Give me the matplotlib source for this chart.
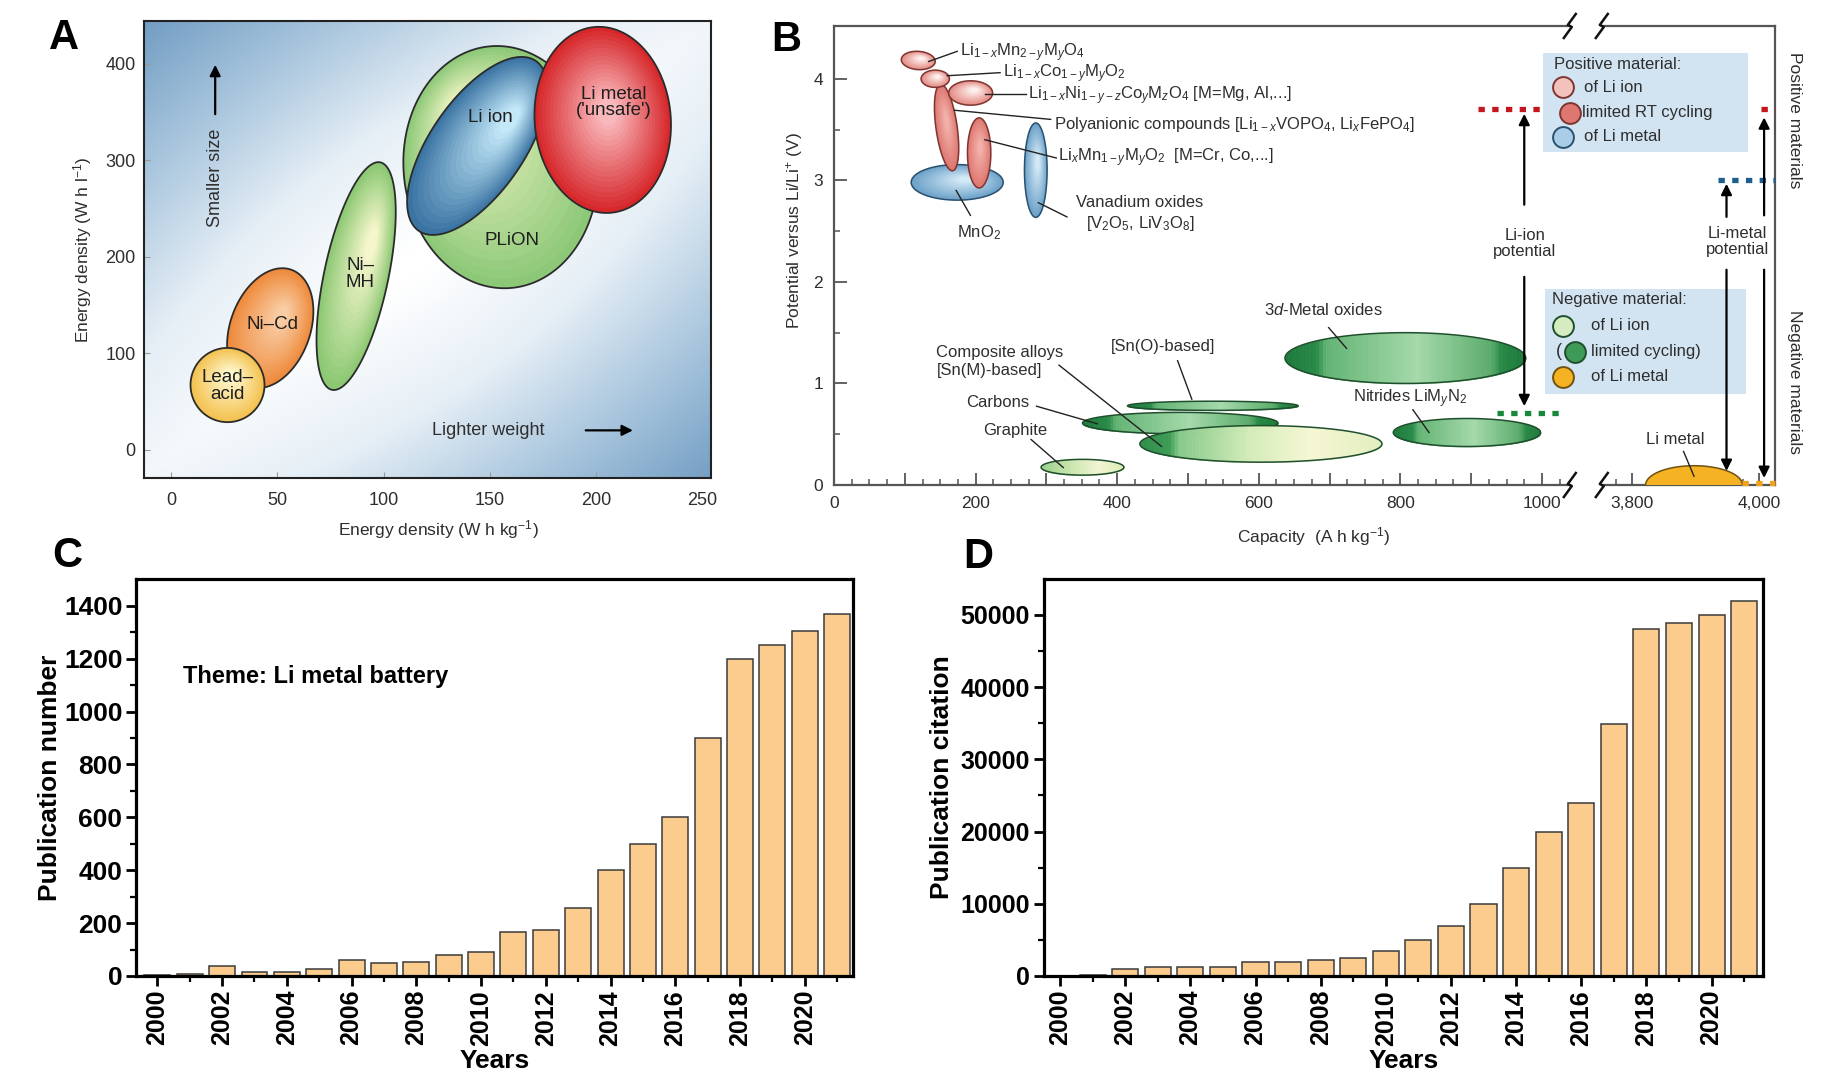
import numpy as np
import matplotlib
matplotlib.use("Agg")
import matplotlib.pyplot as plt
from matplotlib.colors import to_rgb, LinearSegmentedColormap
from matplotlib.patches import Polygon, Rectangle

plt.rcParams["font.family"] = ["Liberation Sans", "DejaVu Sans"]
plt.rcParams["mathtext.fontset"] = "custom"
plt.rcParams["mathtext.rm"] = "Liberation Sans"
plt.rcParams["mathtext.it"] = "Liberation Sans:italic"
plt.rcParams["mathtext.bf"] = "Liberation Sans:bold"

# ---------------- panel A: energy density regions ----------------
A_LABELS = ["Lead–\nacid", "Ni–Cd", "Ni–\nMH", "PLiON", "Li ion", "Li metal\n('unsafe')"]
A_CX = [26.5, 46.6, 87.0, 155.0, 144.0, 203.0]      # W h kg-1
A_CY = [67.0, 126.0, 180.0, 293.0, 315.0, 342.0]    # W h l-1
A_RX = [17.4, 18.8, 15.1, 45.7, 22.1, 32.0]
A_RY = [38.5, 64.4, 120.6, 125.8, 107.0, 96.7]
A_TILT = [0, -20, -12, 5, -34.6, 5]
A_TX = [26.5, 47.6, 89.0, 160.5, 150.0, 208.0]
A_TY = [66.0, 130.0, 182.0, 217.0, 344.0, 360.0]

# ---------------- panel B: electrode materials ----------------
B_POS_NAMES = ["MnO2", "Vanadium oxides", "Polyanionic", "LixMnO2", "LiMn2O4", "LiCoO2", "LiNiCoO2"]
B_POS_CX = [174, 285, 159, 205, 119, 143, 193]        # A h kg-1
B_POS_CY = [2.98, 3.10, 3.52, 3.27, 4.18, 4.00, 3.86]  # V vs Li/Li+
B_POS_W = [130, 32, 30, 33, 48, 40, 62]
B_POS_H = [0.35, 0.93, 0.86, 0.69, 0.18, 0.17, 0.24]
B_POS_TILT = [0, 0, 8, 0, -4, 0, 0]
B_POS_KIND = ["metal", "metal", "rt", "rt", "ion", "ion", "ion"]

B_NEG_NAMES = ["3d-Metal oxides", "Carbons", "Composite alloys", "Sn(O)-based", "Nitrides", "Graphite"]
B_NEG_CX = [807, 489, 603, 535, 894, 351]
B_NEG_CY = [1.25, 0.61, 0.405, 0.78, 0.517, 0.175]
B_NEG_W = [340, 276, 342, 241, 208, 117]
B_NEG_H = [0.50, 0.21, 0.36, 0.09, 0.276, 0.155]
B_NEG_KIND = ["cyc", "cyc", "mix", "cyc", "cyc", "ion"]

LI_METAL_CX, LI_METAL_W, LI_METAL_H = 3898, 152, 0.38

B_DOT_X0 = [909, 4003, 3935, 937, 3974]
B_DOT_X1 = [997, 4025, 4025, 1028, 4025]
B_DOT_Y = [3.70, 3.70, 3.00, 0.71, 0.02]
B_DOT_COL = ["#c4161c", "#c4161c", "#1d5e8c", "#178a3a", "#f0a21e"]

# arrows: x, y_start, y_end
B_ARROWS = [(975, 2.76, 3.655), (975, 2.05, 0.776),
            (3949, 2.64, 2.966), (3949, 2.12, 0.138),
            (4008, 2.655, 3.62), (4008, 2.12, 0.069)]

# ---------------- panels C, D: bibliometrics ----------------
YEARS = np.arange(2000, 2022)
PUB_NUMBER = [3, 6, 38, 14, 15, 25, 59, 49, 54, 78, 89, 168, 173, 258,
              400, 500, 600, 900, 1200, 1250, 1305, 1370]
PUB_CITATION = [0, 140, 930, 1250, 1200, 1200, 1990, 1990, 2270, 2450, 3470, 4950,
                6940, 9950, 14900, 19960, 23960, 34900, 48000, 48900, 50000, 51900]

TXT = "#2e2e2e"


def px_scale(ax, xspan, yspan):
    bb = ax.get_position()
    w = bb.width * fig.get_figwidth() * fig.dpi
    h = bb.height * fig.get_figheight() * fig.dpi
    return w / xspan, h / yspan


def ellipse_pts(cx, cy, rx, ry, tilt, sx, sy, s=1.0, hx=0.0, hy=0.0, n=160):
    t = np.linspace(0, 2 * np.pi, n)
    u = (rx * s * np.cos(t) + (1 - s) * hx * rx) * sx
    v = (ry * s * np.sin(t) + (1 - s) * hy * ry) * sy
    a = np.radians(tilt)
    x = cx + (u * np.cos(a) - v * np.sin(a)) / sx
    y = cy + (u * np.sin(a) + v * np.cos(a)) / sy
    return np.column_stack([x, y])


def shaded(ax, cx, cy, rx, ry, tilt, scale, base, light, edge, hx, hy, z, lw=1.3, layers=18):
    sx, sy = scale
    c0, c1 = np.array(to_rgb(base)), np.array(to_rgb(light))
    for k in range(layers):
        f = k / (layers - 1)
        s = 1 - 0.85 * f
        ax.add_patch(Polygon(ellipse_pts(cx, cy, rx, ry, tilt, sx, sy, s, hx, hy),
                             closed=True, fc=c0 + (c1 - c0) * f, ec="none", zorder=z))
    ax.add_patch(Polygon(ellipse_pts(cx, cy, rx, ry, tilt, sx, sy), closed=True,
                         fill=False, ec=edge, lw=lw, zorder=z + 0.01))


def striped(ax, cx, cy, w, h, stops, edge, z, n=70):
    cmap = LinearSegmentedColormap.from_list("g", stops)
    xs = np.linspace(cx - w / 2, cx + w / 2, n + 1)
    for x0, x1 in zip(xs[:-1], xs[1:]):
        seg = np.linspace(x0, x1, 5)
        half = (h / 2) * np.sqrt(np.clip(1 - ((seg - cx) / (w / 2)) ** 2, 0, 1))
        col = cmap((0.5 * (x0 + x1) - (cx - w / 2)) / w)
        ax.fill_between(seg, cy - half, cy + half, color=col, ec=col, lw=0.5, zorder=z)
    ax.add_patch(Polygon(ellipse_pts(cx, cy, w / 2, h / 2, 0, 1, 1), closed=True,
                         fill=False, ec=edge, lw=1.1, zorder=z + 0.01))


fig = plt.figure(figsize=(18.27, 10.86), dpi=100)

# ======================= A =======================
axA = fig.add_axes([0.0788, 0.5596, 0.3101, 0.4211])
xlA, ylA = (-12.8, 253.7), (-29.7, 444.6)
g = np.linspace(0, 1, 240)
P, Q = np.meshgrid(g, g)
D = np.abs(P - Q) * 1.2 + 0.45 * np.hypot(P - 0.5, Q - 0.45)
bg = LinearSegmentedColormap.from_list("bg", ["#ffffff", "#e6eff6", "#a8c5dd", "#709cc2"])
axA.imshow(D, extent=(*xlA, *ylA), origin="lower", cmap=bg, vmin=0.05, vmax=1.55,
           aspect="auto", zorder=0, interpolation="bilinear")
axA.set_xlim(*xlA)
axA.set_ylim(*ylA)
scA = px_scale(axA, xlA[1] - xlA[0], ylA[1] - ylA[0])

A_BASE = ["#f3c24f", "#ee8a3c", "#8cc873", "#8dc878", "#3b74a3", "#d6272b"]
A_LIGHT = ["#fff6cc", "#f9cda4", "#f5f6cc", "#eef4c2", "#c3e8f8", "#f9b8bb"]
A_HL = [(0.1, 0.3), (0.2, 0.3), (0.3, 0.35), (-0.4, 0.55), (0.3, 0.45), (0.1, 0.1)]
for z, i in enumerate([3, 4, 5, 2, 1, 0]):
    shaded(axA, A_CX[i], A_CY[i], A_RX[i], A_RY[i], A_TILT[i], scA, A_BASE[i], A_LIGHT[i],
           "#2b2b2b", A_HL[i][0], A_HL[i][1], z=2 + z)
    axA.text(A_TX[i], A_TY[i], A_LABELS[i], ha="center", va="center", fontsize=13.5,
             color="#1e1e1e", zorder=20, linespacing=0.95)

axA.annotate("", xy=(20.7, 402), xytext=(20.7, 345),
             arrowprops=dict(arrowstyle="-|>", color="black", lw=1.6, mutation_scale=16), zorder=20)
axA.text(20.7, 282, "Smaller size", rotation=90, ha="center", va="center", fontsize=13, color=TXT)
axA.text(149, 20, "Lighter weight", ha="center", va="center", fontsize=13, color=TXT)
axA.annotate("", xy=(218.5, 20), xytext=(193.7, 20),
             arrowprops=dict(arrowstyle="-|>", color="black", lw=1.6, mutation_scale=16), zorder=20)

axA.set_xticks(range(0, 251, 50))
axA.set_yticks(range(0, 401, 100))
axA.tick_params(direction="in", length=4, color="#9a9a9a", labelsize=13, labelcolor=TXT)
axA.tick_params(axis="x", pad=10)
axA.tick_params(axis="y", pad=6)
for sp in axA.spines.values():
    sp.set_color("#222222")
    sp.set_linewidth(1.5)
axA.set_xlabel("Energy density (W h kg$^{-1}$)", fontsize=12.5, color=TXT)
axA.set_ylabel("Energy density (W h l$^{-1}$)", fontsize=12.5, color=TXT)
axA.xaxis.set_label_coords(0.52, -0.087)
axA.yaxis.set_label_coords(-0.089, 0.5)

# ======================= B =======================
SLOPE = 0.9
KNOTS_X = [-1e5, 1040, 3740, 1e5]
KNOTS_U = [-1e5, 1040, 1072.6, 1072.6 + (1e5 - 3740) * SLOPE]


def cap_fwd(x):
    return np.interp(np.asarray(x, dtype=float), KNOTS_X, KNOTS_U)


def cap_inv(u):
    return np.interp(np.asarray(u, dtype=float), KNOTS_U, KNOTS_X)


axB = fig.add_axes([0.4565, 0.5534, 0.515, 0.4227])
axB.set_xscale("function", functions=(cap_fwd, cap_inv))
xlB, ylB = (0, 4025), (0, 4.52)
axB.set_xlim(*xlB)
axB.set_ylim(*ylB)
scB = px_scale(axB, float(cap_fwd(xlB[1]) - cap_fwd(xlB[0])), ylB[1] - ylB[0])

POS_STYLE = {"ion": ("#e58b84", "#fdf1ef", "#7e3430", (0.2, 0.3)),
             "rt": ("#de7770", "#f2b2ab", "#7e3430", (0.1, 0.2)),
             "metal": ("#6da2c9", "#d3e9f6", "#29506e", (0.2, 0.2))}
for i in range(len(B_POS_NAMES)):
    base, light, edge, hl = POS_STYLE[B_POS_KIND[i]]
    shaded(axB, B_POS_CX[i], B_POS_CY[i], B_POS_W[i] / 2, B_POS_H[i] / 2, B_POS_TILT[i], scB,
           base, light, edge, hl[0], hl[1], z=3 + i * 0.1, lw=1.1)

NEG_STOPS = {
    "cyc": [(0, "#1c7a3b"), (0.13, "#2a8a48"), (0.17, "#63b474"), (0.55, "#a5d9ab"),
            (0.86, "#5aab6a"), (0.9, "#288846"), (1, "#1c7a3b")],
    "mix": [(0, "#2f8f4a"), (0.12, "#3d9c55"), (0.16, "#86c98a"), (0.45, "#d3ecb8"),
            (0.7, "#f6f6d4"), (1, "#e2eebf")],
    "ion": [(0, "#98d08a"), (0.3, "#c3e3a8"), (0.7, "#f2f5d3"), (1, "#dcecb5")],
}
for i, kind in enumerate(B_NEG_KIND):
    striped(axB, B_NEG_CX[i], B_NEG_CY[i], B_NEG_W[i], B_NEG_H[i], NEG_STOPS[kind],
            "#1f4f2c", z=3 + i * 0.1)

axB.add_patch(Polygon(ellipse_pts(LI_METAL_CX, 0, LI_METAL_W / 2, LI_METAL_H / 2, 0, 1, 1),
                      closed=True, fc="#f5b324", ec="#6f5210", lw=1.1, zorder=3))

for x0, x1, y, c in zip(B_DOT_X0, B_DOT_X1, B_DOT_Y, B_DOT_COL):
    axB.plot([x0, x1], [y, y], color=c, lw=3.8, ls=(0, (1.2, 1.4)), solid_capstyle="butt",
             dash_capstyle="butt", zorder=6, clip_on=False)

for x, y0, y1 in B_ARROWS:
    axB.annotate("", xy=(x, y1), xytext=(x, y0),
                 arrowprops=dict(arrowstyle="-|>", color="black", lw=1.6, mutation_scale=16,
                                 shrinkA=0, shrinkB=0), zorder=8)

# material labels with leader lines
B_TEXT = [
    ("Li$_{1-x}$Mn$_{2-y}$M$_y$O$_4$", 177.6, 4.26, "left", (133.7, 4.17), (174, 4.27)),
    ("Li$_{1-x}$Co$_{1-y}$M$_y$O$_2$", 238, 4.05, "left", (160, 4.03), (234.6, 4.06)),
    ("Li$_{1-x}$Ni$_{1-y-z}$Co$_y$M$_z$O$_4$ [M=Mg, Al,...]", 273.5, 3.83, "left",
     (213, 3.85), (271, 3.85)),
    ("Polyanionic compounds [Li$_{1-x}$VOPO$_4$, Li$_x$FePO$_4$]", 311, 3.55, "left",
     (170, 3.69), (306, 3.60)),
    ("Li$_x$Mn$_{1-y}$M$_y$O$_2$  [M=Cr, Co,...]", 316, 3.22, "left", (213, 3.40), (314, 3.22)),
    ("MnO$_2$", 205, 2.48, "center", (172.5, 2.90), (192.7, 2.655)),
    ("Vanadium oxides\n[V$_2$O$_5$, LiV$_3$O$_8$]", 432, 2.67, "center", (288.6, 2.78), (329, 2.64)),
    ("Composite alloys\n[Sn(M)-based]", 144.7, 1.215, "left", (317.8, 1.18), (462.6, 0.38)),
    ("[Sn(O)-based]", 465, 1.36, "center", (485.3, 1.224), (505.4, 0.845)),
    ("Carbons", 231.6, 0.81, "center", (286, 0.776), (371.8, 0.603)),
    ("Graphite", 255.8, 0.534, "center", (278.4, 0.448), (323.8, 0.172)),
    ("3$d$-Metal oxides", 690.5, 1.72, "center", (698.7, 1.55), (724, 1.345)),
    ("Nitrides LiM$_y$N$_2$", 813.7, 0.845, "center", (817.7, 0.741), (840.5, 0.517)),
    ("Li metal", 3869, 0.448, "center", (3881.6, 0.33), (3898, 0.086)),
]
for s, tx, ty, ha, p0, p1 in B_TEXT:
    axB.text(tx, ty, s, ha=ha, va="center", fontsize=12, color=TXT, zorder=9, linespacing=1.25)
    axB.plot([p0[0], p1[0]], [p0[1], p1[1]], color="#222222", lw=1.0, zorder=7)

axB.text(975.7, 2.38, "Li-ion\npotential", ha="center", va="center", fontsize=12, color=TXT,
         linespacing=1.1, zorder=9)
axB.text(3966, 2.40, "Li-metal\npotential", ha="center", va="center", fontsize=12, color=TXT,
         linespacing=1.1, zorder=9)

# legend boxes
tr = axB.transAxes
axB.add_patch(Rectangle((0.754, 0.725), 0.2176, 0.217, transform=tr, fc="#d2e4f1", ec="none", zorder=1))
axB.add_patch(Rectangle((0.7557, 0.198), 0.214, 0.229, transform=tr, fc="#d2e4f1", ec="none", zorder=1))
axB.text(0.765, 0.915, "Positive material:", transform=tr, fontsize=12, color=TXT, va="center", zorder=9)
axB.text(0.763, 0.404, "Negative material:", transform=tr, fontsize=12, color=TXT, va="center", zorder=9)
LEG = [
    (0.775, 0.866, "#f3c2bd", "#7e3430", 0.797, "of Li ion"),
    (0.782, 0.811, "#de7770", "#7e3430", 0.795, "limited RT cycling"),
    (0.775, 0.759, "#a9cde6", "#29506e", 0.797, "of Li metal"),
    (0.775, 0.347, "#d5ecc0", "#1f4f2c", 0.805, "of Li ion"),
    (0.787, 0.290, "#3e9a57", "#1f4f2c", 0.805, "limited cycling)"),
    (0.775, 0.236, "#f5b324", "#6f5210", 0.805, "of Li metal"),
]
for mx, my, fc, ec, tx, s in LEG:
    axB.plot([mx], [my], "o", ms=15, mfc=fc, mec=ec, mew=1.4, transform=tr, zorder=9, clip_on=False)
    axB.text(tx, my, s, transform=tr, fontsize=12, color=TXT, va="center", zorder=9)
axB.text(0.770, 0.290, "(", transform=tr, fontsize=13, color=TXT, va="center", ha="center", zorder=9)

# ticks
major = list(range(0, 1001, 100)) + [3800, 3900, 4000]
labels = [str(v) if v % 200 == 0 else "" for v in range(0, 1001, 100)] + ["3,800", "", "4,000"]
minor = [v for v in range(25, 1026, 25) if v % 100] + [3775, 3825, 3850, 3875, 3925, 3950, 3975, 4025]
axB.set_xticks(major, labels)
axB.set_xticks(minor, minor=True)
axB.set_yticks([0, 1, 2, 3, 4])
axB.set_yticks([0.5, 1.5, 2.5, 3.5], minor=True)
axB.tick_params(which="major", direction="in", length=9, width=1.3, color="#555555",
                labelsize=12.5, labelcolor=TXT)
axB.tick_params(which="minor", direction="in", length=4.5, width=1.1, color="#555555")
axB.tick_params(axis="x", pad=8)
axB.tick_params(axis="y", pad=8)
for sp in axB.spines.values():
    sp.set_color("#555555")
    sp.set_linewidth(1.6)
axB.set_xlabel("Capacity  (A h kg$^{-1}$)", fontsize=12.5, color=TXT)
axB.set_ylabel("Potential versus Li/Li$^{+}$ (V)", fontsize=12.5, color=TXT)
axB.xaxis.set_label_coords(0.51, -0.087)
axB.yaxis.set_label_coords(-0.031, 0.555)

# axis break marks
for yb in (0.0, 1.0):
    axB.plot([0.786, 0.812], [yb, yb], transform=tr, color="white", lw=5, clip_on=False, zorder=10)
    for xb in (0.782, 0.816):
        zx = np.array([-6, 2, -2, 6]) / 941.0 + xb
        zy = np.array([-12, -1, 1, 12]) / 459.0 + yb
        axB.plot(zx, zy, transform=tr, color="#111111", lw=1.8, clip_on=False, zorder=11)

fig.text(0.982, 0.889, "Positive materials", rotation=-90, ha="center", va="center",
         fontsize=12.5, color=TXT)
fig.text(0.982, 0.648, "Negative materials", rotation=-90, ha="center", va="center",
         fontsize=12.5, color=TXT)

# ======================= C & D =======================
BAR_FILL = "#fccc8f"
BAR_EDGE = "#3a3a3a"


def bar_panel(ax, values, ymax, ystep, yminor, ylabel, tsize, ylab_x):
    ax.bar(YEARS, values, width=0.8, color=BAR_FILL, edgecolor=BAR_EDGE, linewidth=1.1, zorder=2)
    yt = np.arange(0, ymax, ystep)
    ax.set_yticks(yt, [str(int(v)) for v in yt], fontweight="bold", fontsize=tsize)
    ax.set_yticks(np.arange(yminor, ymax, ystep), minor=True)
    xt = np.arange(2000, 2021, 2)
    ax.set_xticks(xt, [str(v) for v in xt], fontweight="bold", fontsize=18, rotation=90)
    ax.set_xticks(np.arange(2001, 2022, 2), minor=True)
    ax.tick_params(which="major", direction="out", length=7, width=2.0, color="black", pad=3)
    ax.tick_params(which="minor", direction="out", length=4, width=1.6, color="black")
    for sp in ax.spines.values():
        sp.set_linewidth(2.3)
        sp.set_color("black")
    ax.set_ylabel(ylabel, fontsize=19, fontweight="bold")
    ax.set_xlabel("Years", fontsize=19, fontweight="bold")
    ax.yaxis.set_label_coords(ylab_x, 0.5)
    ax.xaxis.set_label_coords(0.5, -0.183)


axC = fig.add_axes([0.0746, 0.1013, 0.3923, 0.3658])
axC.set_xlim(1999.35, 2021.49)
axC.set_ylim(0, 1502)
bar_panel(axC, PUB_NUMBER, 1401, 200, 100, "Publication number", 19, -0.104)
axC.text(2000.8, 1134, "Theme: Li metal battery", fontsize=17, fontweight="bold", va="center")

axD = fig.add_axes([0.5713, 0.1013, 0.3935, 0.3655])
axD.set_xlim(1999.5, 2021.57)
axD.set_ylim(0, 54960)
bar_panel(axD, PUB_CITATION, 50001, 10000, 5000, "Publication citation", 18, -0.1245)

# panel letters
for s, x, y in [("A", 64, 38), ("B", 786, 40), ("C", 67, 556), ("D", 978, 557)]:
    fig.text(x / 1827, 1 - y / 1086, s, fontsize=30, fontweight="bold", ha="center", va="center")

fig.savefig("out.png", dpi=100, facecolor="white")
